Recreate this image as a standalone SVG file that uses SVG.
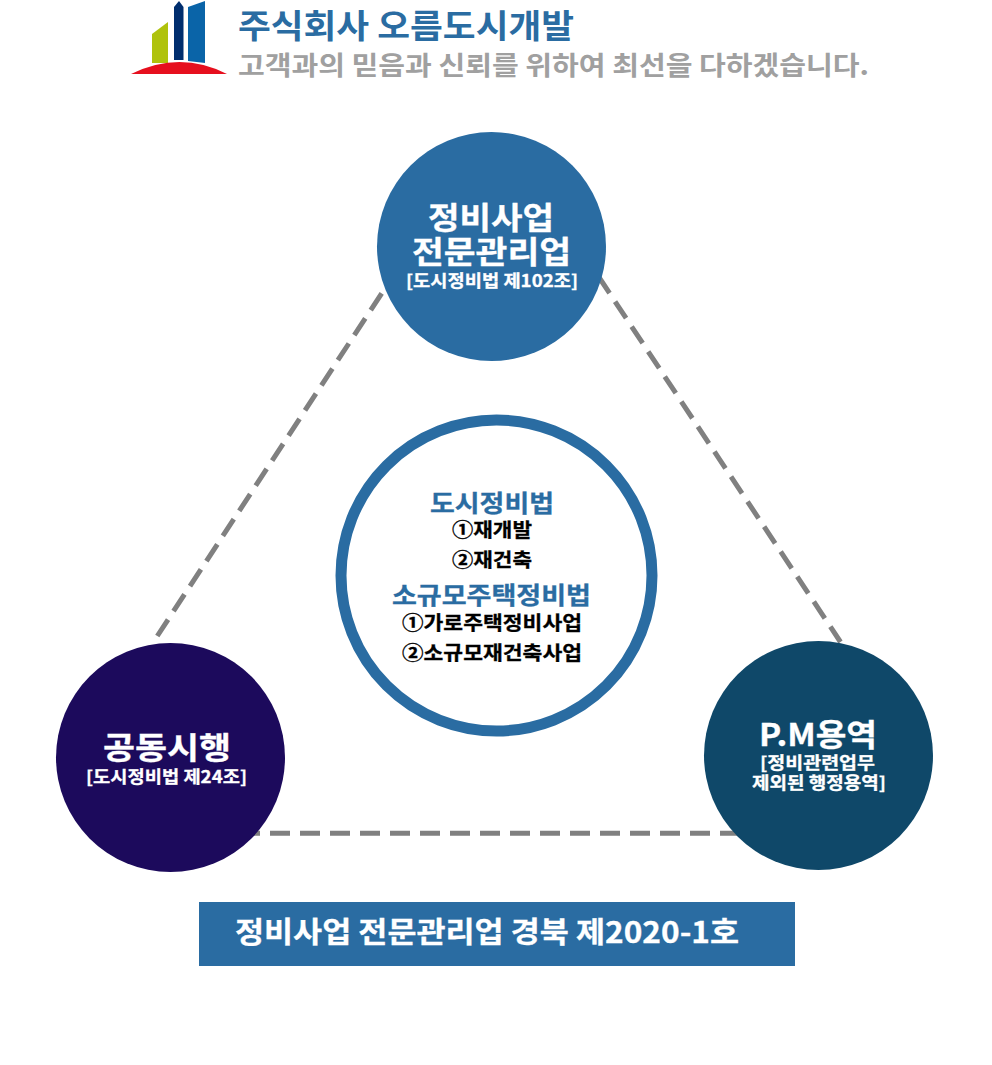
<svg xmlns="http://www.w3.org/2000/svg" width="992" height="1065" viewBox="0 0 992 1065">
<style>
text{font-family:"Noto Sans CJK KR","Noto Sans",sans-serif;font-weight:700;text-anchor:start}
.w{fill:#fff;stroke:#fff;stroke-width:.3}
.b{fill:#2a6ca2;stroke:#2a6ca2;stroke-width:.3}
.k{fill:#000;stroke:#000;stroke-width:.3;font-size:19px}
.dash{stroke:#808080;stroke-width:5;stroke-dasharray:20 10;fill:none}
</style>
<rect width="992" height="1065" fill="#fff"/>
<g id="logo">
<path d="M152 34L168 22V63L152 63Z" fill="#afc20c"/>
<path d="M174 7L179 1L183.500 7V60H174Z" fill="#002e6e"/>
<path d="M188 7L205 1V63L188 61Z" fill="#0a64a8"/>
<path d="M131 74Q180 50 227 74Z" fill="#e60f1e"/>
</g>
<g id="header">
<text x="238" y="38" style="font-size:33px;fill:#2a6ca2" textLength="336" lengthAdjust="spacingAndGlyphs">주식회사 오름도시개발</text>
<text x="238" y="75" style="font-size:26px;fill:#a0a0a0" textLength="631" lengthAdjust="spacingAndGlyphs">고객과의 믿음과 신뢰를 위하여 최선을 다하겠습니다.</text>
</g>
<g id="connectors">
<line class="dash" x1="381.700" y1="293.300" x2="157.300" y2="636"/>
<line class="dash" x1="598.500" y1="276.500" x2="840.500" y2="642"/>
<line class="dash" x1="240" y1="833.300" x2="740" y2="833.300"/>
</g>
<g id="node-top">
<circle cx="491.500" cy="246.500" r="114.500" fill="#2a6ca2"/>
<text class="w" x="428" y="229" font-size="31" textLength="126" lengthAdjust="spacingAndGlyphs">정비사업</text>
<text class="w" x="412" y="263" font-size="31" textLength="159" lengthAdjust="spacingAndGlyphs">전문관리업</text>
<text class="w" x="406" y="287" font-size="17" textLength="172" lengthAdjust="spacingAndGlyphs">[도시정비법 제102조]</text>
</g>
<g id="node-center">
<circle cx="496.500" cy="575.500" r="155.500" fill="#fff" stroke="#2a6ca2" stroke-width="11"/>
<text class="b" x="430" y="512" font-size="24" textLength="124" lengthAdjust="spacingAndGlyphs">도시정비법</text>
<text class="k" x="452" y="537" textLength="80" lengthAdjust="spacingAndGlyphs">①재개발</text>
<text class="k" x="452" y="567" textLength="80" lengthAdjust="spacingAndGlyphs">②재건축</text>
<text class="b" x="392" y="604" font-size="24" textLength="199" lengthAdjust="spacingAndGlyphs">소규모주택정비법</text>
<text class="k" x="402" y="630" textLength="180" lengthAdjust="spacingAndGlyphs">①가로주택정비사업</text>
<text class="k" x="402" y="660" textLength="180" lengthAdjust="spacingAndGlyphs">②소규모재건축사업</text>
</g>
<g id="node-left">
<circle cx="170.500" cy="757.500" r="114.500" fill="#1c0a5c"/>
<text class="w" x="103" y="759" font-size="31" textLength="128" lengthAdjust="spacingAndGlyphs">공동시행</text>
<text class="w" x="86" y="783" font-size="17" textLength="161" lengthAdjust="spacingAndGlyphs">[도시정비법 제24조]</text>
</g>
<g id="node-right">
<circle cx="818.500" cy="755.500" r="114.500" fill="#0f4869"/>
<text class="w" x="759" y="746" font-size="31" textLength="118" lengthAdjust="spacingAndGlyphs">P.M용역</text>
<text class="w" x="760" y="769" font-size="17" textLength="115" lengthAdjust="spacingAndGlyphs">[정비관련업무</text>
<text class="w" x="752" y="789" font-size="17" textLength="134" lengthAdjust="spacingAndGlyphs">제외된 행정용역]</text>
</g>
<g id="banner">
<rect x="199" y="902" width="596" height="64" fill="#2a6ca2"/>
<text class="w" x="235" y="943" font-size="29" textLength="504" lengthAdjust="spacingAndGlyphs">정비사업 전문관리업 경북 제2020-1호</text>
</g>
</svg>
